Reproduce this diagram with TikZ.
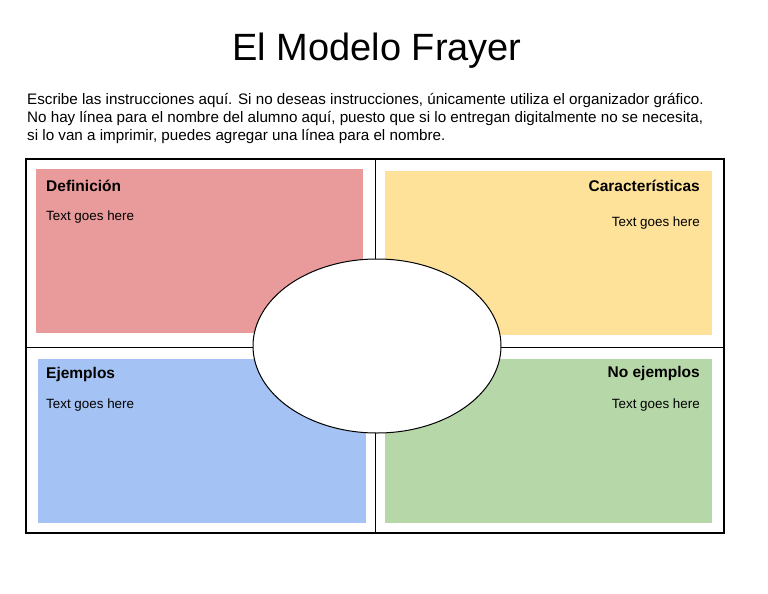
\documentclass[tikz,border=0pt]{standalone}
\usepackage{fontspec}
\setmainfont{Liberation Sans}
\usetikzlibrary{shapes.geometric}
\begin{document}
\begin{tikzpicture}[x=1pt,y=-1pt,
  head/.style={font=\fontsize{15.5}{17}\selectfont\bfseries,inner sep=0},
  body/.style={font=\fontsize{13.4}{15}\selectfont,inner sep=0}]
\useasboundingbox (0,0) rectangle (768,594);
\node[font=\fontsize{38}{42}\selectfont] (title) at (377,51) {El Modelo Frayer};
\node[anchor=west,align=left,inner sep=0,font=\fontsize{15.2}{18}\selectfont] (instr) at (27,118)
 {Escribe las instrucciones aquí. Si no deseas instrucciones, únicamente utiliza el organizador gráfico.\\
 No hay línea para el nombre del alumno aquí, puesto que si lo entregan digitalmente no se necesita,\\
 si lo van a imprimir, puedes agregar una línea para el nombre.};
\fill[fill={rgb,255:red,233;green,154;blue,154}] (36,169) rectangle (363,333);
\fill[fill={rgb,255:red,254;green,226;blue,154}] (385,171) rectangle (712,335);
\fill[fill={rgb,255:red,164;green,194;blue,244}] (38,359) rectangle (366,523);
\fill[fill={rgb,255:red,182;green,215;blue,168}] (385,359) rectangle (712,523);
\draw[line width=2pt] (26,159) rectangle (724,533);
\draw[line width=1pt] (375,159) -- (375,533);
\draw[line width=1pt] (26,347) -- (724,347);
\node[draw,line width=1pt,fill=white,ellipse,minimum width=248,minimum height=174,inner sep=0] (center) at (377,346) {};
\node[head,anchor=west] (h1) at (46,186) {Definición};
\node[body,anchor=west] (t1) at (46,217) {Text goes here};
\node[head,anchor=east] (h2) at (700,186) {Características};
\node[body,anchor=east] (t2) at (700,223) {Text goes here};
\node[head,anchor=west] (h3) at (46,374) {Ejemplos};
\node[body,anchor=west] (t3) at (46,405) {Text goes here};
\node[head,anchor=east] (h4) at (700,373) {No ejemplos};
\node[body,anchor=east] (t4) at (700,405) {Text goes here};
\end{tikzpicture}
\end{document}
